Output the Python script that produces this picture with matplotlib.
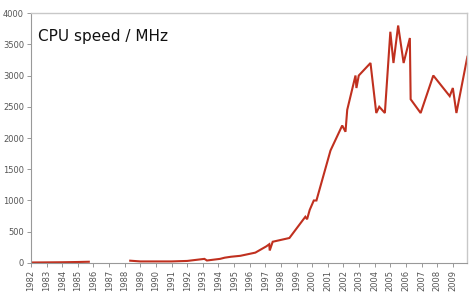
import numpy as np
import matplotlib
matplotlib.use("Agg")
import matplotlib.pyplot as plt

# Data (year as decimal, CPU speed in MHz); NaN marks the gap in the record
years = [1982.0, 1983.0, 1984.0, 1985.0, 1985.7, 1986.5,
         1988.35, 1989.0, 1990.0, 1991.0, 1992.0, 1993.1, 1993.26, 1994.1, 1994.4,
         1994.8, 1995.4, 1996.36, 1997.06, 1997.25, 1997.28, 1997.47, 1998.54,
         1999.56, 1999.67, 1999.84, 2000.1, 2000.27, 2001.17, 2001.92, 2002.13,
         2002.24, 2002.77, 2002.83, 2002.98, 2003.73, 2004.1, 2004.29, 2004.65,
         2005.0, 2005.2, 2005.5, 2005.85, 2006.25, 2006.3, 2006.94, 2007.75,
         2008.8, 2009.0, 2009.23, 2009.93]
mhz = [8, 10, 12, 16, 20, np.nan,
       37, 25, 25, 25, 33, 66, 40, 66, 85,
       100, 115, 166, 266, 300, 200, 340, 400,
       740, 700, 850, 1000, 1000, 1800, 2200, 2100,
       2450, 3000, 2800, 3000, 3200, 2400, 2500, 2400,
       3700, 3200, 3800, 3200, 3600, 2620, 2400, 3000,
       2670, 2800, 2400, 3300]

year_ticks = list(range(1982, 2010))
y_ticks = [0, 500, 1000, 1500, 2000, 2500, 3000, 3500, 4000]

fig = plt.figure(figsize=(4.74, 2.93), dpi=100)
ax = fig.add_axes([0.0654, 0.1024, 0.9196, 0.8532])

ax.plot(years, mhz, color="#c0301f", linewidth=1.5, solid_joinstyle="miter")

ax.set_xlim(1982, 2009.9)
ax.set_ylim(0, 4000)
ax.set_xticks(year_ticks)
ax.set_xticklabels([str(y) for y in year_ticks], rotation=90)
ax.set_yticks(y_ticks)

ax.tick_params(axis="both", labelsize=6, length=3, width=0.6,
               direction="out", pad=2)
ax.tick_params(axis="x", colors="#888888", labelcolor="#555555")
ax.tick_params(axis="y", colors="#888888", labelcolor="#555555")

for side in ["top", "right"]:
    ax.spines[side].set_color("#c8c8c8")
    ax.spines[side].set_linewidth(1.0)
ax.spines["left"].set_color("#999999")
ax.spines["bottom"].set_color("#999999")
ax.spines["left"].set_linewidth(0.8)
ax.spines["bottom"].set_linewidth(0.8)

ax.text(0.016, 0.935, "CPU speed / MHz", transform=ax.transAxes, fontsize=11,
        color="#111111", ha="left", va="top")

fig.savefig("out.png", dpi=100)
